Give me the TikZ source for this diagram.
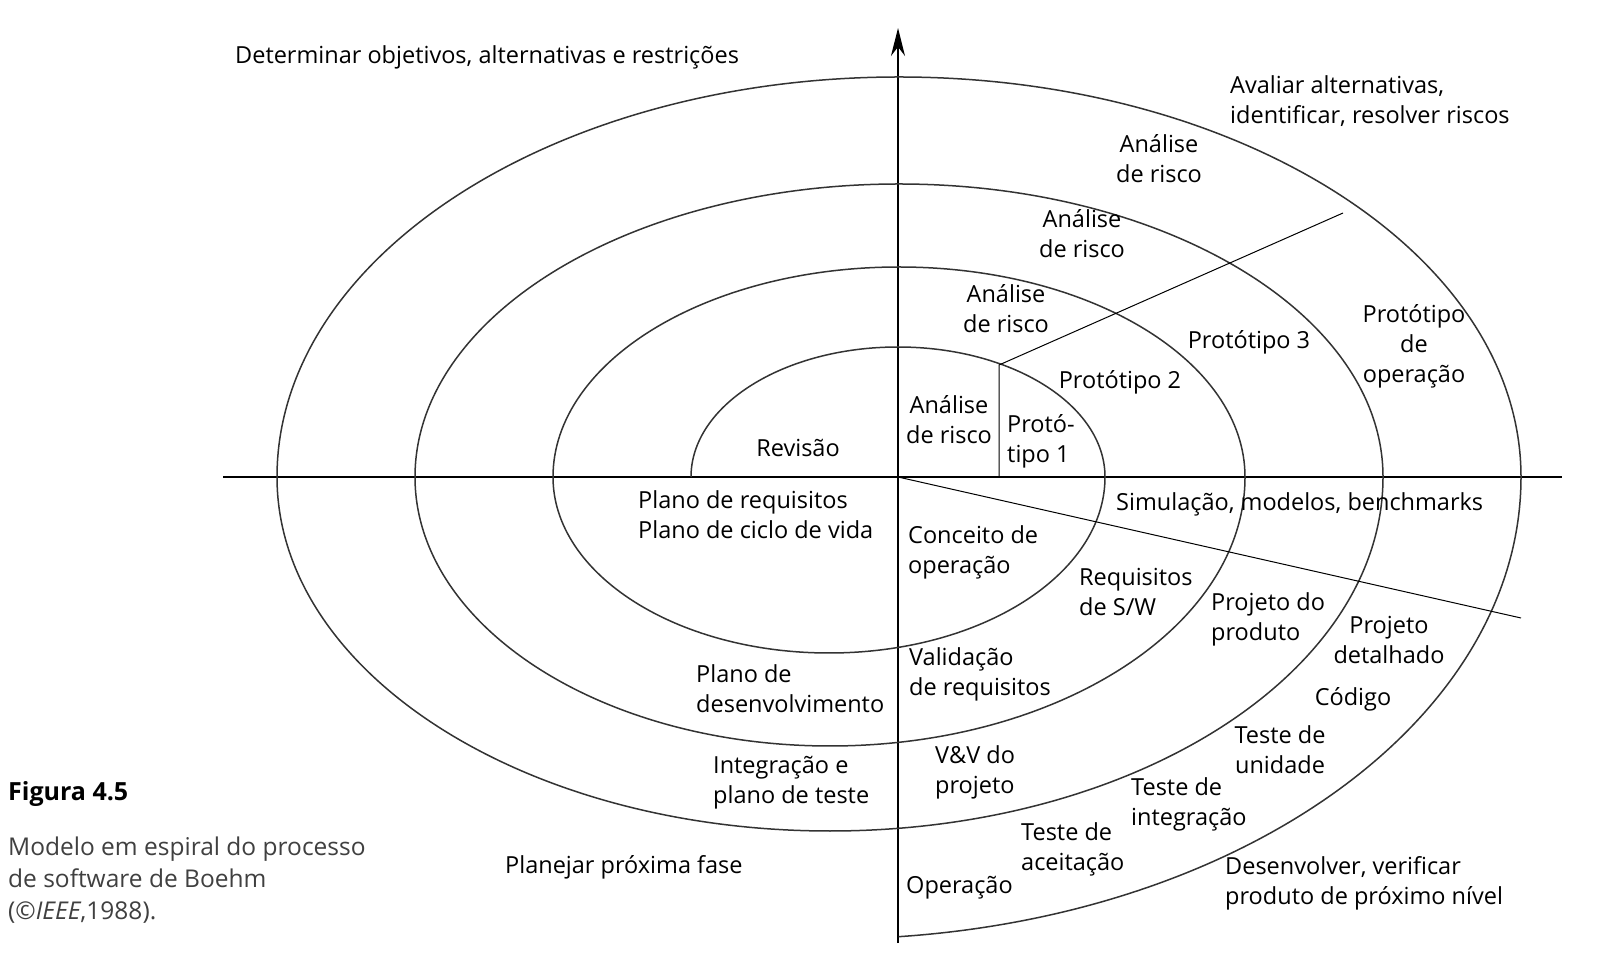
\documentclass[tikz,border=0pt]{standalone}
\usepackage{fontspec}
\setmainfont{Open Sans}
\usetikzlibrary{arrows.meta}
\begin{document}
\begin{tikzpicture}[x=1pt,y=1pt,
  lbl/.style={inner sep=0pt,align=center,font=\fontsize{23.5}{30}\selectfont},
  lbll/.style={lbl,align=left,anchor=west},
  ax/.style={line width=1.8pt},
  sp/.style={line width=1.5pt,color=black!80}]
\fill[white] (0,0) rectangle (1600,972);
\useasboundingbox (0,0) rectangle (1600,972);
% axes
\draw[ax] (223,495) -- (1562,495);
\draw[ax,-{Stealth[length=28pt,width=14pt]}] (898,29) -- (898,944);
% spiral
\draw[sp] (691,495)
  arc[start angle=180,end angle=0,x radius=207,y radius=130]
  arc[start angle=0,end angle=-180,x radius=276,y radius=176]
  arc[start angle=180,end angle=0,x radius=346,y radius=210]
  arc[start angle=0,end angle=-180,x radius=415,y radius=269]
  arc[start angle=180,end angle=0,x radius=484,y radius=293]
  arc[start angle=0,end angle=-180,x radius=553,y radius=354]
  arc[start angle=180,end angle=0,x radius=622,y radius=400]
  arc[start angle=0,end angle=-84.3,x radius=691,y radius=462];
% dividers
\coordinate (d1) at (999,607);
\coordinate (d0) at (999,495);
\coordinate (d2) at (1343,759);
\coordinate (c0) at (898,495);
\coordinate (c1) at (1521,354);
\draw[line width=1pt] (d0) -- (d1) -- (d2);
\draw[line width=1pt] (c0) -- (c1);
% labels
\node[lbll] (t1) at (235,915) {Determinar objetivos, alternativas e restrições};
\node[lbll] (t2) at (1230,871) {Avaliar alternativas,\\identificar, resolver riscos};
\node[lbl] (a4) at (1159,813) {Análise\\de risco};
\node[lbl] (a3) at (1082,738) {Análise\\de risco};
\node[lbl] (a2) at (1006,663) {Análise\\de risco};
\node[lbl] (a1) at (949,552) {Análise\\de risco};
\node[lbll] (p1) at (1007,531) {Protó-\\tipo 1};
\node[lbl] (p2) at (1120,590) {Protótipo 2};
\node[lbl] (p3) at (1249,630) {Protótipo 3};
\node[lbl] (po) at (1414,626) {Protótipo\\de\\operação};
\node[lbl] (rev) at (798,524) {Revisão};
\node[lbll] (pr) at (638,457) {Plano de requisitos\\Plano de ciclo de vida};
\node[lbll] (sim) at (1116,468) {Simulação, modelos, benchmarks};
\node[lbll] (co) at (908,420) {Conceito de\\operação};
\node[lbll] (rq) at (1079,380) {Requisitos\\de S/W};
\node[lbll] (pp) at (1211,353) {Projeto do\\produto};
\node[lbl] (pd) at (1389,332) {Projeto\\detalhado};
\node[lbl] (cod) at (1353,273) {Código};
\node[lbl] (tu) at (1280,222) {Teste de\\unidade};
\node[lbll] (ti) at (1131,168) {Teste de\\integração};
\node[lbll] (ta) at (1021,123) {Teste de\\aceitação};
\node[lbll] (op) at (906,84) {Operação};
\node[lbll] (dv) at (1225,89) {Desenvolver, verificar\\produto de próximo nível};
\node[lbll] (vr) at (909,298) {Validação\\de requisitos};
\node[lbll] (pdv) at (696,283) {Plano de\\desenvolvimento};
\node[lbll] (vv) at (935,200) {V\&V do\\projeto};
\node[lbll] (ip) at (713,189) {Integração e\\plano de teste};
\node[lbll] (pf) at (505,105) {Planejar próxima fase};
\node[lbll,font=\fontsize{25}{30}\selectfont\bfseries] (fig) at (8,178) {Figura 4.5};
\node[lbll,font=\fontsize{24.5}{32}\selectfont,text=black!75] (cap) at (8,92) {Modelo em espiral do processo\\de software de Boehm\\(©\textit{IEEE},1988).};
\end{tikzpicture}
\end{document}
